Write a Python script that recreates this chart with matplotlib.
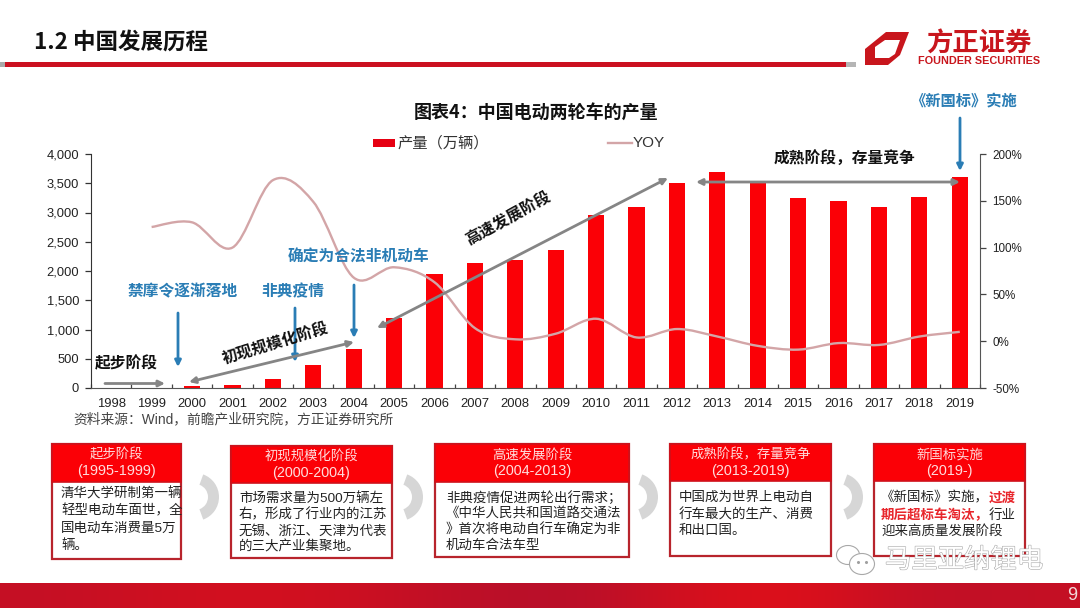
"""Electric two-wheeler output in China, as a report slide."""
import matplotlib
matplotlib.use('Agg')
import matplotlib.pyplot as plt
import matplotlib.patheffects as pe
import numpy as np
from matplotlib.colors import LinearSegmentedColormap
from matplotlib.patches import FancyArrowPatch, PathPatch, Polygon, Rectangle, Wedge, Ellipse
from matplotlib.path import Path
from matplotlib.ticker import FuncFormatter

plt.rcParams['font.family'] = ['Liberation Sans', 'Noto Sans CJK SC', 'DejaVu Sans']
CJK = ['Noto Sans CJK SC', 'DejaVu Sans']

years = list(range(1998, 2020))
output = [0, 0, 30, 55, 160, 400, 670, 1200, 1950, 2130, 2180, 2360, 2950,
          3100, 3500, 3690, 3530, 3250, 3200, 3100, 3270, 3600]
yoy_years = list(range(1999, 2020))
yoy = [122, 127, 100, 172, 149, 68, 79, 63, 14, 2, 8, 24, 4, 13, 5, -5, -9,
       -2, -4, 5, 10]
left_ticks = [0, 500, 1000, 1500, 2000, 2500, 3000, 3500, 4000]
right_ticks = [-50, 0, 50, 100, 150, 200]

stage_names = ['起步阶段', '初现规模化阶段', '高速发展阶段', '成熟阶段，存量竞争', '新国标实施']
stage_periods = ['(1995-1999)', '(2000-2004)', '(2004-2013)', '(2013-2019)', '(2019-)']
stage_lines = [
    ['清华大学研制第一辆', '轻型电动车面世，全', '国电动车消费量5万', '辆。'],
    ['市场需求量为500万辆左', '右，形成了行业内的江苏', '无锡、浙江、天津为代表', '的三大产业集聚地。'],
    ['非典疫情促进两轮出行需求；', '《中华人民共和国道路交通法', '》首次将电动自行车确定为非', '机动车合法车型'],
    ['中国成为世界上电动自', '行车最大的生产、消费', '和出口国。'],
]
# left, top, right, header bottom, bottom of each stage card
stage_boxes = [(52, 444, 181, 482, 559), (231, 446, 392, 483, 558),
               (435, 444, 629, 482, 557), (670, 444, 831, 481, 556),
               (874, 444, 1025, 481, 556)]
chevrons = [197, 401, 636, 841]

RED = '#fb0006'
BAND = '#cb1020'
BLUE = '#2a7db5'
GREY_ARROW = '#858585'
LOGO = '#c8161d'


def smooth_path(x, y, tension=0.5):
    """Bezier path through the points, spreadsheet style smoothing."""
    pts = np.column_stack([x, y]).astype(float)
    verts = [pts[0]]
    codes = [Path.MOVETO]
    for i in range(len(pts) - 1):
        prev_pt = pts[max(i - 1, 0)]
        next_pt = pts[min(i + 2, len(pts) - 1)]
        verts.append(pts[i] + (pts[i + 1] - prev_pt) * tension / 3)
        verts.append(pts[i + 1] - (next_pt - pts[i]) * tension / 3)
        verts.append(pts[i + 1])
        codes += [Path.CURVE4] * 3
    return Path(verts, codes)


def arrow(ov, start, end, color=GREY_ARROW, style='-|>', lw=2.0, scale=9):
    ov.add_patch(FancyArrowPatch(start, end, arrowstyle=style, color=color,
                                 lw=lw, mutation_scale=scale, shrinkA=0,
                                 shrinkB=0))


fig = plt.figure(figsize=(10.8, 6.08), dpi=100)

# Chart axes
ax = fig.add_axes([91 / 1080, 1 - 388 / 608, 889 / 1080, 234 / 608])
ax.bar(range(len(years)), output, width=0.4, color=RED, zorder=2)
ax.set_xlim(-0.5, 21.5)
ax.set_ylim(0, 4000)
ax.set_yticks(left_ticks)
ax.yaxis.set_major_formatter(FuncFormatter(lambda v, _: f'{int(v):,}'))
ax.set_xticks(np.arange(-0.5, 22))
ax.set_xticklabels([])
ax.tick_params(axis='x', direction='in', length=3, width=0.9, color='#444444')
ax.tick_params(axis='y', length=4, width=0.9, labelsize=9.3, pad=4.5,
               labelcolor='#222222', color='#333333')
for i, yr in enumerate(years):
    ax.text(i, -265, str(yr), ha='center', va='center', fontsize=9.4,
            color='#222222')
ax.spines['top'].set_visible(False)
ax.spines['right'].set_visible(False)
ax.spines['left'].set_color('#333333')
ax.spines['bottom'].set_color('#555555')

ax2 = ax.twinx()
ax2.set_ylim(-50, 200)
ax2.set_yticks(right_ticks)
ax2.yaxis.set_major_formatter(FuncFormatter(lambda v, _: f'{int(v)}%'))
ax2.tick_params(axis='y', length=4, width=0.9, labelsize=8.4, pad=5,
                labelcolor='#222222', color='#444444')
for side in ['top', 'left', 'bottom']:
    ax2.spines[side].set_visible(False)
ax2.spines['right'].set_color('#555555')
yoy_x = [y - years[0] for y in yoy_years]
ax2.add_patch(PathPatch(smooth_path(yoy_x, yoy), fc='none', ec='#d3a5a7',
                        lw=1.7, zorder=3))

# Everything outside the chart is placed in slide pixels
ov = fig.add_axes([0, 0, 1, 1], zorder=5)
ov.axis('off')

# Footer band
band_cmap = LinearSegmentedColormap.from_list('band', ['#b80f2a', '#de101a'])
ov.imshow(np.array([[0.4, 0.6, 0.7, 0.5, 0.2, 0.15, 0.8, 0.9, 0.3, 0.4]]),
          extent=(0, 1080, 608, 583), aspect='auto', cmap=band_cmap,
          interpolation='bicubic', zorder=1)
ov.set_xlim(0, 1080)
ov.set_ylim(608, 0)
ov.text(1072, 595, '9', fontsize=13, ha='center', va='center', color='#f2d8d8')

# Header
ov.text(34, 42, '1.2 中国发展历程', fontsize=16.2, fontweight='bold', va='center',
        color='#111111', family=CJK)
ov.add_patch(Rectangle((0, 62), 5, 5, color='#aaaaaa', lw=0))
ov.add_patch(Rectangle((5, 62), 841, 5, color=BAND, lw=0))
ov.add_patch(Rectangle((846, 62), 10, 5, color='#b5b5b5', lw=0))

# Logo
ov.add_patch(Polygon([(865, 49), (886, 32), (909, 32), (900, 55), (888, 65),
                      (865, 65)], color=LOGO, lw=0))
ov.add_patch(Polygon([(875, 47), (885, 40), (900, 40), (895, 54), (889, 58),
                      (875, 58)], color='white', lw=0))
ov.text(979, 44, '方正证券', fontsize=19, fontweight='bold', ha='center',
        va='center', color=LOGO, family=CJK)
ov.text(979, 61.5, 'FOUNDER SECURITIES', fontsize=7.8, fontweight='bold',
        ha='center', va='center', color=LOGO)

# Chart title and legend
ov.text(536, 112, '图表4：中国电动两轮车的产量', fontsize=13, fontweight='bold',
        ha='center', va='center', color='#111111', family=CJK)
ov.add_patch(Rectangle((373, 139), 22, 8, color='#e60012', lw=0))
ov.text(397, 143, '产量（万辆）', fontsize=11, va='center', color='#333333',
        family=CJK)
ov.plot([608, 632], [143, 143], color='#d3a5a7', lw=1.7)
ov.text(633, 143, 'YOY', fontsize=11, va='center', color='#333333')

# Event markers
ov.text(963, 101, '《新国标》实施', fontsize=11, fontweight='bold', ha='center',
        va='center', color=BLUE, family=CJK)
arrow(ov, (960, 118), (960, 171), BLUE)
ov.text(183, 291, '禁摩令逐渐落地', fontsize=11.3, fontweight='bold', ha='center',
        va='center', color=BLUE, family=CJK)
arrow(ov, (178, 313), (178, 367), BLUE)
ov.text(293, 291, '非典疫情', fontsize=11.3, fontweight='bold', ha='center',
        va='center', color=BLUE, family=CJK)
arrow(ov, (295, 308), (295, 362), BLUE)
ov.text(358, 257, '确定为合法非机动车', fontsize=11.3, fontweight='bold',
        ha='center', va='center', color=BLUE, family=CJK)
arrow(ov, (354, 285), (354, 338), BLUE)

# Stage labels
ov.text(845, 158, '成熟阶段，存量竞争', fontsize=11.3, fontweight='bold', ha='center',
        va='center', color='#111111', family=CJK)
arrow(ov, (696, 182), (960, 182), style='<|-|>')
ov.text(508, 218, '高速发展阶段', fontsize=11.3, fontweight='bold', rotation=29,
        ha='center', va='center', color='#111111', family=CJK,
        rotation_mode='anchor')
arrow(ov, (377, 328), (668, 178), style='<|-|>')
ov.text(276, 344, '初现规模化阶段', fontsize=11.3, fontweight='bold', rotation=17,
        ha='center', va='center', color='#111111', family=CJK,
        rotation_mode='anchor')
arrow(ov, (189, 382), (354, 342), style='<|-|>')
ov.text(126, 363, '起步阶段', fontsize=11.3, fontweight='bold', ha='center',
        va='center', color='#111111', family=CJK)
arrow(ov, (105, 383.5), (165, 383.5))

ov.text(73, 419, '资料来源：Wind，前瞻产业研究院，方正证券研究所', fontsize=9.9,
        va='center', color='#444444')

# Stage cards
for i, (x0, y0, x1, yh, y1) in enumerate(stage_boxes):
    ov.add_patch(Rectangle((x0, y0), x1 - x0, y1 - y0, fc='white',
                           ec='#b8242c', lw=1.6, zorder=2))
    ov.add_patch(Rectangle((x0, y0), x1 - x0, yh - y0, fc=RED, ec='#d0101a',
                           lw=1.2, zorder=3))
    mid = (x0 + x1) / 2
    ov.text(mid, y0 + 11, stage_names[i], fontsize=9.6, ha='center',
            va='center', color='#ffdcdc', zorder=4)
    ov.text(mid, y0 + 27, stage_periods[i], fontsize=10.4, ha='center',
            va='center', color='#ffdcdc', zorder=4)
body_left = [61, 239, 446, 679]
body_top = [494, 498, 498, 498]
body_step = [17.2, 16.5, 16.0, 16.5]
for i, lines in enumerate(stage_lines):
    x0, y0, x1, yh, y1 = stage_boxes[i]
    clip = Rectangle((x0, y0), x1 - x0 - 1, y1 - y0, transform=ov.transData)
    for j, line in enumerate(lines):
        t = ov.text(body_left[i], body_top[i] + j * body_step[i], line,
                    fontsize=9.7, va='center', color='#222222', zorder=4)
        t.set_clip_path(clip)

# Last card mixes plain and highlighted text
ov.text(881, 498, '《新国标》实施，', fontsize=9.7, va='center', color='#222222', zorder=4)
ov.text(989, 498, '过渡', fontsize=9.7, va='center', color='#e8262c',
        fontweight='bold', zorder=4, family=CJK)
ov.text(881, 515, '期后超标车淘汰，', fontsize=9.7, va='center', color='#e8262c',
        fontweight='bold', zorder=4, family=CJK)
ov.text(989, 515, '行业', fontsize=9.7, va='center', color='#222222', zorder=4)
ov.text(881, 531, '迎来高质量发展阶段', fontsize=9.7, va='center', color='#222222', zorder=4)

# Grey separators between cards
for cx in chevrons:
    ov.add_patch(Wedge((cx - 2, 497), 24, -70, 70, width=11, fc='#d6d6d6', lw=0))

# Account mark over the corner of the last card
mark = [pe.withStroke(linewidth=0.8, foreground='#a8a8a8')]
ov.text(964, 560, '马里亚纳锂电', fontsize=19, ha='center', va='center',
        color='white', path_effects=mark, zorder=6, family=CJK)
ov.add_patch(Ellipse((848, 555), 23, 19, fc='white', ec='#a8a8a8', lw=0.8, zorder=6))
ov.add_patch(Ellipse((862, 564), 25, 21, fc='white', ec='#a8a8a8', lw=0.8, zorder=6))
ov.plot([858, 866], [562, 562], ls='none', marker='o', ms=1.2, color='#a0a0a0', zorder=7)

fig.savefig('out.png', dpi=100)
